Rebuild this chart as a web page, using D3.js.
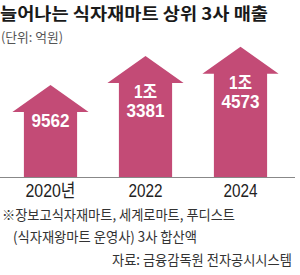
<!DOCTYPE html>
<html>
<head>
<meta charset="utf-8">
<script src="https://cdn.jsdelivr.net/npm/d3@7"></script>
<style>
  body { margin: 0; background: #fff; }
  svg { display: block; }
</style>
</head>
<body>
<svg class="chart"></svg>
<script>
// data
const years = ["2020년", "2022", "2024"];
const sales = [9562, 13381, 14573];   // 억원
const title = "늘어나는 식자재마트 상위 3사 매출";
const unit = "(단위: 억원)";
const notes = ["※장보고식자재마트, 세계로마트, 푸디스트", "(식자재왕마트 운영사) 3사 합산액"];
const source = "자료: 금융감독원 전자공시시스템";

const canvas = {width: 300, height: 275};
const baseY = 177;
const kr = "'Noto Sans CJK KR', 'Noto Sans', sans-serif";
const num = "'Liberation Sans', 'Noto Sans CJK KR', sans-serif";
const pink = "#c34b76";

const data = years.map((y, i) => ({year: y, value: sales[i]}));

const chart = d3.select(".chart")
    .attr("width", canvas.width)
    .attr("height", canvas.height);

const x = d3.scaleBand()
    .domain(years)
    .range([3, 288])
    .paddingInner(0.44)
    .paddingOuter(0.22);

const y = d3.scaleLinear()
    .domain([0, 16000])
    .range([157.5, 36]);

const headH = 27;
const over = 11.5;

// title + unit
chart.append("text")
    .attr("x", 0).attr("y", 20)
    .attr("textLength", 268).attr("lengthAdjust", "spacingAndGlyphs")
    .style("font-family", kr).style("font-weight", 700).style("font-size", "17px")
    .style("fill", "#1a1a1a")
    .text(title);

chart.append("text")
    .attr("x", 1).attr("y", 42)
    .attr("textLength", 62).attr("lengthAdjust", "spacingAndGlyphs")
    .style("font-family", kr).style("font-size", "13px")
    .style("fill", "#555")
    .text(unit);

// arrows
const arrow = chart.selectAll("g.arrow")
    .data(data)
    .enter().append("g")
    .attr("class", "arrow");

arrow.append("path")
    .attr("fill", pink)
    .attr("d", function(d) {
        const l = x(d.year), r = l + x.bandwidth(), c = l + x.bandwidth() / 2;
        const tip = y(d.value), hb = tip + headH;
        return "M" + l + "," + baseY + "L" + l + "," + hb + "L" + (l - over) + "," + hb +
            "L" + c + "," + tip + "L" + (r + over) + "," + hb + "L" + r + "," + hb +
            "L" + r + "," + baseY + "Z";
    });

arrow.each(function(d) {
    const g = d3.select(this);
    const c = x(d.year) + x.bandwidth() / 2;
    const hb = y(d.value) + headH;
    let lines = d.value >= 10000
        ? [Math.floor(d.value / 10000) + "조", String(d.value % 10000)]
        : [String(d.value)];
    lines.forEach(function(t, i) {
        g.append("text")
            .attr("x", c)
            .attr("y", hb + 8.5 + i * 19)
            .attr("dy", "0.36em")
            .attr("text-anchor", "middle")
            .attr("textLength", t.length === 4 ? 38 : 23)
            .attr("lengthAdjust", "spacingAndGlyphs")
            .style("font-family", num).style("font-weight", 700).style("font-size", "18px")
            .style("fill", "#fff")
            .text(t);
    });
});

// baseline + year labels
chart.append("line")
    .attr("x1", 0).attr("x2", 295)
    .attr("y1", baseY + 0.5).attr("y2", baseY + 0.5)
    .attr("stroke", "#888").attr("stroke-width", 1);

const xAxis = d3.axisBottom(x).tickSize(0).tickPadding(0);
const axisG = chart.append("g")
    .attr("transform", "translate(0," + baseY + ")")
    .call(xAxis);
axisG.select(".domain").remove();
axisG.selectAll("text")
    .attr("y", 20).attr("dy", 0)
    .attr("textLength", d => d.length > 4 ? 50 : 34)
    .attr("lengthAdjust", "spacingAndGlyphs")
    .style("font-family", num).style("font-size", "18px")
    .style("fill", "#222");

// footnotes
chart.append("text")
    .attr("x", 2).attr("y", 220)
    .attr("textLength", 233).attr("lengthAdjust", "spacingAndGlyphs")
    .style("font-family", kr).style("font-size", "14px").style("fill", "#333")
    .text(notes[0]);
chart.append("text")
    .attr("x", 13).attr("y", 242)
    .attr("textLength", 184).attr("lengthAdjust", "spacingAndGlyphs")
    .style("font-family", kr).style("font-size", "14px").style("fill", "#333")
    .text(notes[1]);

// source: squeeze horizontally with a scale so it ends at x=292
const src = chart.append("text")
    .attr("x", 0).attr("y", 0)
    .style("font-family", kr).style("font-size", "14px").style("fill", "#333")
    .text(source);
const srcW = src.node().getComputedTextLength();
src.attr("transform", "translate(112,265) scale(" + (180 / srcW) + ",1)");
</script>
</body>
</html>
